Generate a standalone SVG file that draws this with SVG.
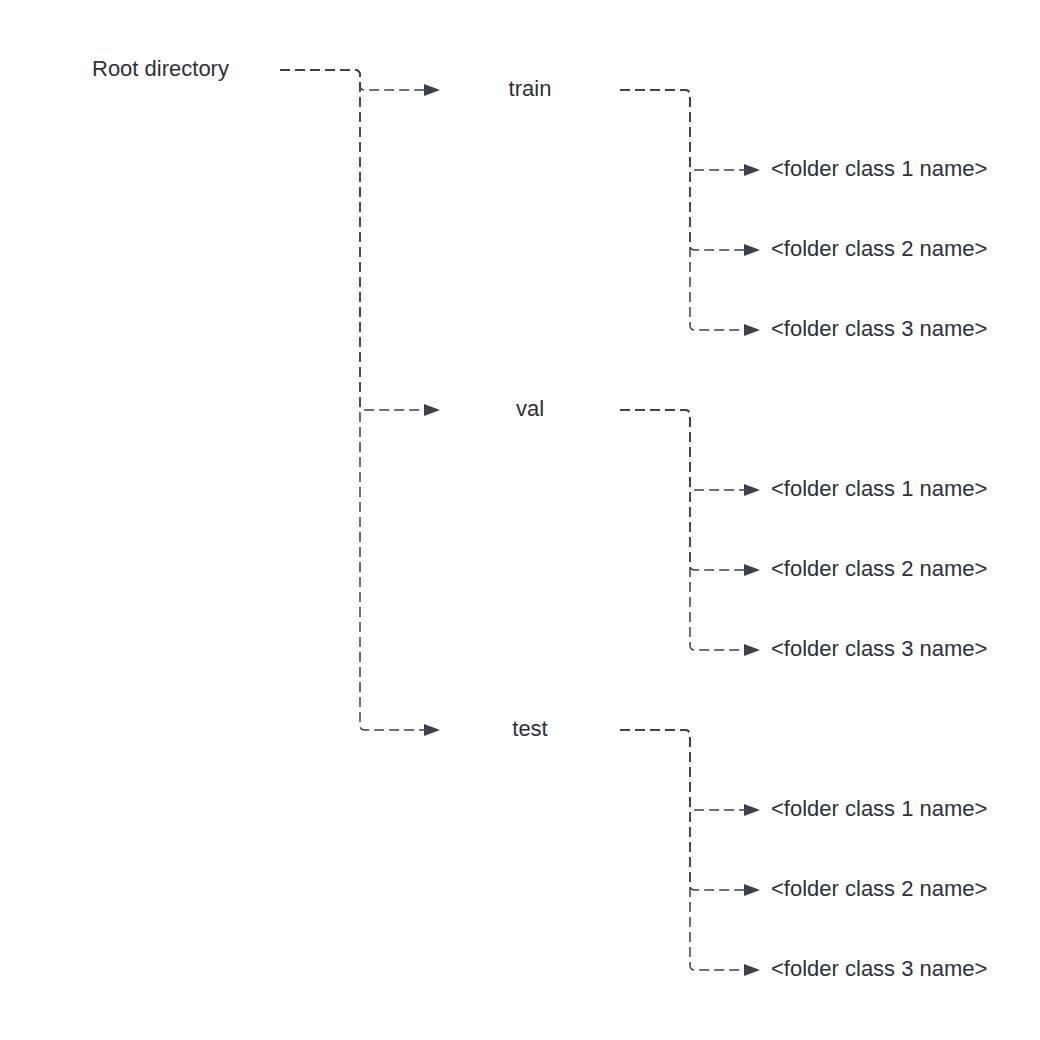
<svg xmlns="http://www.w3.org/2000/svg" width="1040" height="1040" viewBox="0 0 1040 1040">
<style>
.lbl{font-family:"Liberation Sans",Arial,sans-serif;font-size:22px;fill:#2d323a}
.mid{text-anchor:middle}
.con{fill:none;stroke:#3a414a;stroke-width:1.5;stroke-dasharray:10 5;marker-end:url(#arr)}
</style>
<defs>
<marker id="arr" markerUnits="userSpaceOnUse" markerWidth="17" markerHeight="13" refX="0" refY="6" orient="auto">
<path d="M0,0 L16,6 L0,12 z" fill="#3a414a"/>
</marker>
</defs>
<rect width="1040" height="1040" fill="#ffffff"/>
<g id="connectors">
<path class="con" d="M280,70 H355 Q360,70 360,75 V85 Q360,90 365,90 H424"/>
<path class="con" d="M280,70 H355 Q360,70 360,75 V405 Q360,410 365,410 H424"/>
<path class="con" d="M280,70 H355 Q360,70 360,75 V725 Q360,730 365,730 H424"/>
<path class="con" d="M620,90 H685 Q690,90 690,95 V165 Q690,170 695,170 H744"/>
<path class="con" d="M620,90 H685 Q690,90 690,95 V245 Q690,250 695,250 H744"/>
<path class="con" d="M620,90 H685 Q690,90 690,95 V325 Q690,330 695,330 H744"/>
<path class="con" d="M620,410 H685 Q690,410 690,415 V485 Q690,490 695,490 H744"/>
<path class="con" d="M620,410 H685 Q690,410 690,415 V565 Q690,570 695,570 H744"/>
<path class="con" d="M620,410 H685 Q690,410 690,415 V645 Q690,650 695,650 H744"/>
<path class="con" d="M620,730 H685 Q690,730 690,735 V805 Q690,810 695,810 H744"/>
<path class="con" d="M620,730 H685 Q690,730 690,735 V885 Q690,890 695,890 H744"/>
<path class="con" d="M620,730 H685 Q690,730 690,735 V965 Q690,970 695,970 H744"/>
</g>
<g id="root"><text class="lbl" x="92" y="76">Root directory</text></g>
<g id="train"><text class="lbl mid" x="530" y="96">train</text></g>
<g id="val"><text class="lbl mid" x="530" y="416">val</text></g>
<g id="test"><text class="lbl mid" x="530" y="736">test</text></g>
<g id="train-c1"><text class="lbl" x="771" y="176">&lt;folder class 1 name&gt;</text></g>
<g id="train-c2"><text class="lbl" x="771" y="256">&lt;folder class 2 name&gt;</text></g>
<g id="train-c3"><text class="lbl" x="771" y="336">&lt;folder class 3 name&gt;</text></g>
<g id="val-c1"><text class="lbl" x="771" y="496">&lt;folder class 1 name&gt;</text></g>
<g id="val-c2"><text class="lbl" x="771" y="576">&lt;folder class 2 name&gt;</text></g>
<g id="val-c3"><text class="lbl" x="771" y="656">&lt;folder class 3 name&gt;</text></g>
<g id="test-c1"><text class="lbl" x="771" y="816">&lt;folder class 1 name&gt;</text></g>
<g id="test-c2"><text class="lbl" x="771" y="896">&lt;folder class 2 name&gt;</text></g>
<g id="test-c3"><text class="lbl" x="771" y="976">&lt;folder class 3 name&gt;</text></g>
</svg>
